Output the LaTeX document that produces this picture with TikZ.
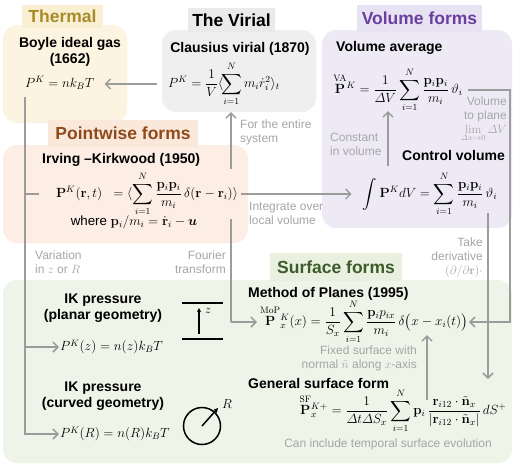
\documentclass[tikz,border=0pt]{standalone}
\usepackage{fix-cm}
\usepackage{amsmath}
\usepackage[no-math]{fontspec}
\setmainfont{Liberation Sans}
\usetikzlibrary{arrows.meta}
\definecolor{thermbg}{HTML}{FCF4E0}
\definecolor{thermtl}{HTML}{F9EFD2}
\definecolor{thermtxt}{HTML}{A88B2A}
\definecolor{virbg}{HTML}{EFEFEF}
\definecolor{virtl}{HTML}{EAEAEA}
\definecolor{volbg}{HTML}{EEEAF5}
\definecolor{voltl}{HTML}{E8E3F2}
\definecolor{voltxt}{HTML}{6B3FA0}
\definecolor{ptbg}{HTML}{FCEEE4}
\definecolor{pttl}{HTML}{FAE8DB}
\definecolor{pttxt}{HTML}{8F4A1C}
\definecolor{sfbg}{HTML}{EFF4E8}
\definecolor{sftl}{HTML}{E9F0DF}
\definecolor{sftxt}{HTML}{3E5C2B}
\definecolor{linegray}{HTML}{9C9C9C}
\definecolor{labelgray}{HTML}{A6A6A6}
\pgfdeclarelayer{back}
\pgfdeclarelayer{mid}
\pgfsetlayers{back,mid,main}
\tikzset{
  box/.style={rounded corners=14pt, inner sep=0pt, outer sep=0pt, draw=none},
  ttl/.style={font=\fontsize{17.5}{20}\selectfont\bfseries, inner sep=0pt},
  hd/.style={font=\fontsize{14}{16.5}\selectfont\bfseries, inner sep=0pt, align=center},
  fm/.style={font=\fontsize{13.3}{15}\selectfont, inner sep=1pt},
  lb/.style={font=\fontsize{12}{14}\selectfont, text=labelgray, inner sep=0pt},
  ar/.style={draw=linegray, line width=1.5pt, -{Straight Barb[length=5pt,width=10pt]}},
  ln/.style={draw=linegray, line width=1.5pt},
  sym/.style={draw=black, line width=1.5pt},
}
\begin{document}
\begin{tikzpicture}[x=1pt,y=-1pt]
\useasboundingbox (0,0) rectangle (520,467);
% region boxes
\begin{pgfonlayer}{back}
\fill[white] (0,0) rectangle (520,467);
\node[box,fill=thermbg,minimum width=124pt,minimum height=98pt] (thB) at (65,74) {};
\node[box,fill=virbg,minimum width=154pt,minimum height=82pt] (virB) at (239,71) {};
\node[box,fill=volbg,minimum width=190pt,minimum height=198pt] (volB) at (417,129) {};
\node[box,fill=ptbg,minimum width=245pt,minimum height=98pt] (ptB) at (125.5,194) {};
\node[box,fill=sfbg,minimum width=509pt,minimum height=183pt] (sfB) at (257.5,371.5) {};
\end{pgfonlayer}
% titles
\node[ttl,fill=thermtl,text=thermtxt,minimum width=81pt,minimum height=23pt] (thT) at (62.5,16.5) {Thermal};
\node[ttl,fill=virtl,text=black,minimum width=87pt,minimum height=24pt] (virT) at (231.5,20) {The Virial};
\node[ttl,fill=voltl,text=voltxt,minimum width=125pt,minimum height=27pt] (volT) at (419.5,18.5) {Volume forms};
\node[ttl,fill=pttl,text=pttxt,minimum width=150pt,minimum height=27pt] (ptT) at (123,133.5) {Pointwise forms};
\node[ttl,fill=sftl,text=sftxt,minimum width=132pt,minimum height=28pt] (sfT) at (336,267) {Surface forms};
% headings
\node[hd] (boyH) at (70,52) {Boyle ideal gas\\(1662)};
\node[hd] (clH) at (240,49) {Clausius virial (1870)};
\node[hd,anchor=west] (vaH) at (336,48) {Volume average};
\node[hd,anchor=west] (cvH) at (402,155) {Control volume};
\node[hd,anchor=west] (ikH) at (42,160) {Irving –Kirkwood (1950)};
\node[hd] (pzH) at (103,308) {IK pressure\\(planar geometry)};
\node[hd] (prH) at (103,396) {IK pressure\\(curved geometry)};
\node[hd,anchor=west] (mopH) at (248,294) {Method of Planes (1995)};
\node[hd,anchor=west] (sfH) at (248,383) {General surface form};
% formulas
\node[fm,anchor=west] (boyF) at (24,83) {$P^K = nk_BT$};
\node[fm] (virF) at (224,84) {$\displaystyle P^K = \frac{1}{V}\langle\!\sum_{i=1}^{N} m_i\dot r_i^2\rangle_t$};
\node[fm] (vaF) at (398,90) {$\displaystyle \overset{\mathrm{VA}}{\mathbf P}{}^{K} = \frac{1}{\varDelta V}\sum_{i=1}^{N}\frac{\mathbf p_i\mathbf p_i}{m_i}\,\vartheta_i$};
\node[fm] (cvF) at (430,194) {$\displaystyle \int \mathbf P^K dV = \sum_{i=1}^N \frac{\mathbf p_i\mathbf p_i}{m_i}\,\vartheta_i$};
\node[fm,fill=ptbg,inner sep=3pt] (ikF) at (147,194) {$\displaystyle \mathbf P^K(\mathbf r,t)\;\; = \langle\sum_{i=1}^N \frac{\mathbf p_i\mathbf p_i}{m_i}\,\delta(\mathbf r-\mathbf r_i)\rangle$};
\node[fm] (ikW) at (134,222) {where $\mathbf p_i/m_i = \dot{\mathbf r}_i - \boldsymbol u$};
\node[fm,anchor=west] (pzF) at (59,347) {$P^K(z) = n(z)k_BT$};
\node[fm,anchor=west] (prF) at (59,434) {$P^K(R) = n(R)k_BT$};
\node[fm,anchor=west] (mopF) at (259,322) {$\displaystyle \overset{\mathrm{MoP}}{\mathbf P}{}^{K}_{x}(x) = \frac{1}{S_x}\sum_{i=1}^N\frac{\mathbf p_i p_{ix}}{m_i}\,\delta\bigl(x - x_i(t)\bigr)$};
\node[fm] (sfF) at (403,411) {$\displaystyle \overset{\mathrm{SF}}{\mathbf P}{}^{K+}_{x} = \frac{1}{\varDelta t\varDelta S_x}\sum_{i=1}^N \mathbf p_i\,\frac{\mathbf r_{i12}\cdot\tilde{\mathbf n}_x}{|\mathbf r_{i12}\cdot\tilde{\mathbf n}_x|}\,dS^+$};
% gray labels
\node[lb,align=left,anchor=west] (lFor) at (240,132) {For the entire\\system};
\node[lb,align=left,anchor=west] (lInt) at (249,213) {Integrate over\\local volume};
\node[lb,align=right,anchor=east] (lFou) at (226,262) {Fourier\\transform};
\node[lb,align=left,anchor=west] (lVar) at (35,262) {Variation\\in $z$ or $R$};
\node[lb,align=left,anchor=west] (lCon) at (330,144) {Constant\\in volume};
\node[lb,align=right,anchor=east] (lVol) at (507,119) {Volume\\to plane\\$\lim\limits_{\varDelta x\to 0}\varDelta V$};
\node[lb,align=right,anchor=east] (lTak) at (483,258) {Take\\derivative\\$(\partial/\partial\mathbf r)\cdot$};
\node[lb,align=right,anchor=east] (lFix) at (417,358) {Fixed surface with\\normal $\tilde n$ along $x$-axis};
\node[lb] (lCan) at (388,444) {Can include temporal surface evolution};
% geometry symbols
\draw[sym] (182,303) -- (223,303);
\draw[sym] (182,339) -- (223,339);
\draw[sym,-{Stealth[length=4pt,width=4pt]}] (199,334) -- (199,308);
\node[font=\fontsize{12}{12}\selectfont,inner sep=0pt] (zL) at (208,311) {$z$};
\node[sym,circle,minimum size=37pt,inner sep=0pt] (circ) at (202,426) {};
\draw[sym,-{Stealth[length=5pt,width=5pt]}] (circ.center) -- (218,408);
\node[font=\fontsize{13}{13}\selectfont,inner sep=0pt] (RL) at (227,404) {$R$};
% connectors
\begin{pgfonlayer}{mid}
\coordinate (xL) at (25,0);
\coordinate (jL) at (25,97);
\coordinate (xM) at (231,0);
\coordinate (jM) at (mopF.west -| xM);
\coordinate (xR) at (510,0);
\coordinate (cTop) at (488,213);
\coordinate (cBot) at (488,379);
\coordinate (uB) at (427,400);
\coordinate (uT) at (427,335);
\coordinate (kB) at (388,166);
\coordinate (kT) at (388,111);
\draw[ln,shorten >=14pt] (ikF.west -| xL) -- (ikF.west);
\draw[ar] (jL) |- (pzF.west);
\draw[ar] (jL) |- (prF.west);
\draw[ar,shorten >=9pt] ([xshift=-10pt]virF.west) -- (virF.west -| boyF.east);
\draw[ar] (jM) -- (jM |- virB.south);
\draw[ar,shorten >=2pt] (jM) -- (mopF.west);
\draw[ar,shorten >=10pt] (ikF.east) -- (ikF.east -| cvF.west);
\draw[ar] ([xshift=4pt]vaF.east) -| (mopF.east -| xR) -- (mopF.east);
\draw[ar] (cTop) -- (cBot);
\draw[ar] (uB) -- (uT);
\draw[ar] (kB) -- (kT);
\end{pgfonlayer}
\end{tikzpicture}
\end{document}
